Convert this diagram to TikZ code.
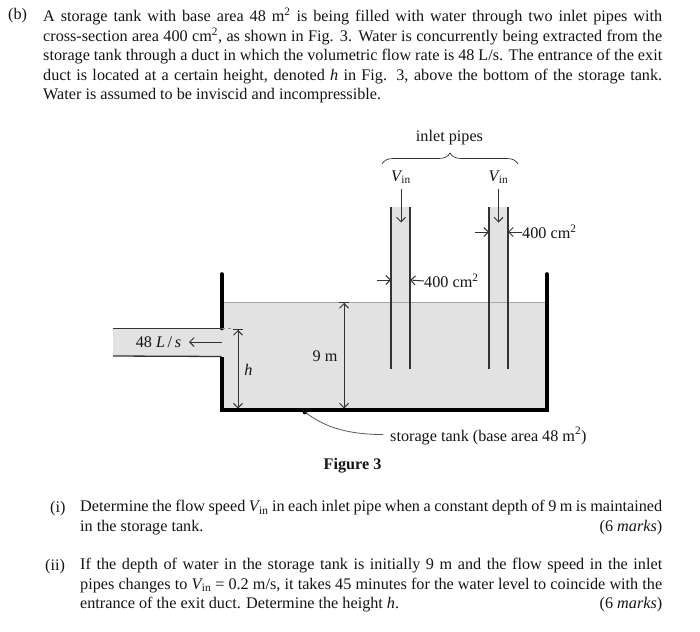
\documentclass[tikz,border=0pt]{standalone}
\usepackage{fontspec}
\setmainfont{Liberation Serif}
\usetikzlibrary{arrows.meta,decorations.pathreplacing}
\definecolor{waterc}{HTML}{E2E2E2}
\definecolor{linec}{HTML}{333333}
\definecolor{inkc}{HTML}{151515}
\newcommand{\fline}[2]{\makebox[#1pt][s]{#2}\\}
\newcommand{\Vin}{\textit{V}\kern-1.2pt\textsubscript{in}}
\tikzset{
  txt/.style={inner sep=0pt,text=inkc,font=\fontsize{16.2}{19.5}\selectfont},
  para/.style={txt,anchor=north west,align=left},
  wall/.style={line width=3.6pt,black},
  thinwall/.style={line width=1.1pt,linec},
  dimline/.style={line width=1pt,linec},
  barb/.style={dimline,-{Straight Barb[length=4.5pt,width=9pt,line width=1pt]}},
  bothbar/.style={dimline,{Bar[width=10pt,line width=1pt]Straight Barb[length=4.5pt,width=9pt,line width=1pt]}-{Straight Barb[length=4.5pt,width=9pt,line width=1pt]}},
}
\begin{document}
\begin{tikzpicture}[x=1pt,y=-1pt]
\path[use as bounding box,fill=white] (0,0) rectangle (700,631);
% text
\node[txt,anchor=base west] (b) at (8,20) {(b)};
\node[para] (ptext) at (43,8) {%
\fline{619}{A storage tank with base area 48 m\textsuperscript{2} is being filled with water through two inlet pipes with}
\fline{619}{cross-section area 400 cm\textsuperscript{2}, as shown in Fig. 3. Water is concurrently being extracted from the}
\fline{619}{storage tank through a duct in which the volumetric flow rate is 48 L/s. The entrance of the exit}
\fline{619}{duct is located at a certain height, denoted \textit{h} in Fig. 3, above the bottom of the storage tank.}
Water is assumed to be inviscid and incompressible.};
\node[txt,anchor=base west] (i) at (50,512) {(i)};
\node[para] (ptexti) at (80,500) {%
\fline{582}{Determine the flow speed \Vin{} in each inlet pipe when a constant depth of 9 m is maintained}
\fline{582}{in the storage tank.\hfill(6 \textit{marks})}};
\node[txt,anchor=base west] (ii) at (45,570) {(ii)};
\node[para] (ptextii) at (80,558) {%
\fline{582}{If the depth of water in the storage tank is initially 9 m and the flow speed in the inlet}
\fline{582}{pipes changes to \Vin{} = 0.2 m/s, it takes 45 minutes for the water level to coincide with the}
\fline{582}{entrance of the exit duct. Determine the height \textit{h}.\hfill(6 \textit{marks})}};
% water
\fill[waterc] (222,302) rectangle (547,410);
\fill[waterc] (113,329) rectangle (224,356);
\fill[waterc] (391,207) rectangle (410,302);
\fill[waterc] (489,207) rectangle (508,302);
\draw[line width=1pt,black!35] (222,302) -- (546,302);
% coordinates
\coordinate (wtl) at (221.7,274);
\coordinate (wtg) at (221.7,328.5);
\coordinate (wbg) at (221.7,356.5);
\coordinate (bl) at (221.7,410);
\coordinate (br) at (547,410);
\coordinate (wtr) at (547,274);
\coordinate (ducttl) at (113,328.5);
\coordinate (ductbl) at (113,356);
% tank
\draw[wall] (wbg) -- (bl) -- (br) -- (wtr);
\draw[wall,line cap=round] (wtl) -- (wtg);
\draw[wall,line cap=round] (547,280) -- (wtr);
\draw[line width=1.3pt,linec] (ducttl) -- (wtg);
\draw[line width=1.3pt,linec] (ductbl) -- (wbg);
% pipes
\foreach \n/\xa/\xb in {l/391/410,r/489/508}{
  \draw[thinwall] (\xa,207) -- (\xa,369);
  \draw[thinwall] (\xb,207) -- (\xb,369);
}
% h and 9 m
\coordinate (htop) at (238,329);
\coordinate (hbot) at (238,408.5);
\coordinate (ntop) at (344,302);
\coordinate (nbot) at (344,408.5);
\draw[line width=.5pt,black!45,dashed] (wtg) -- (233,328.5);
\draw[bothbar] (htop) -- (hbot);
\draw[bothbar] (ntop) -- (nbot);
\node[txt] (hl) at (248.5,370) {\textit{h}};
\node[txt] (nm) at (325,356) {9 m};
% duct flow
\node[txt] (dl) at (158.5,342) {48 \textit{L}\,/\,\textit{s}};
\coordinate (fa) at (222,342);
\coordinate (fb) at (189,342);
\draw[barb] (fa) -- (fb);
% V in
\node[txt] (v1) at (401,177) {\Vin};
\node[txt] (v2) at (498.5,177) {\Vin};
\coordinate (a1) at (401,222.5);
\coordinate (a2) at (498.5,222.5);
\coordinate (s1) at (401,189);
\coordinate (s2) at (498.5,189);
\draw[barb] (s1) -- (a1);
\draw[barb] (s2) -- (a2);
% brace
\coordinate (bra) at (382,164);
\coordinate (brb) at (518,164);
\draw[line width=.7pt,linec,decorate,decoration={brace,amplitude=11pt}] (bra) -- (brb);
\node[txt] (ip) at (449.5,137.5) {inlet pipes};
% 400 cm2
\node[txt,anchor=west] (c1) at (424,281) {400 cm\textsuperscript{2}};
\node[txt,anchor=west] (c2) at (522,232) {400 cm\textsuperscript{2}};
\coordinate (c1a) at (377,280);\coordinate (c1b) at (391,280);\coordinate (c1c) at (410,280);
\coordinate (c2a) at (475,232);\coordinate (c2b) at (489,232);\coordinate (c2c) at (508,232);
\draw[barb] (c1a) -- (c1b);
\draw[barb] (c1.west) -- (c1c);
\draw[barb] (c2a) -- (c2b);
\draw[barb] (c2.west) -- (c2c);
% storage tank label
\node[txt,anchor=west] (st) at (390,436) {storage tank (base area 48 m\textsuperscript{2})};
\fill[black] (305,412) circle (2.4pt);
\coordinate (dot) at (305,412);
\coordinate (cv) at (383,434.5);
\draw[line width=.8pt,black!65] (dot) .. controls (325,428) and (350,434.5) .. (cv);
\node[txt,font=\fontsize{16.2}{18}\selectfont\bfseries] (fig) at (352.5,465.5) {Figure 3};
\end{tikzpicture}
\end{document}
